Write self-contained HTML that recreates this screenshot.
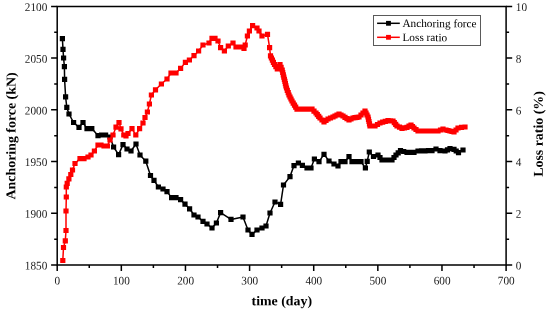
<!DOCTYPE html>
<html><head><meta charset="utf-8"><title>Anchoring force and loss ratio</title>
<style>
html,body{margin:0;padding:0;background:#fff}
svg{display:block}
text{font-family:"Liberation Serif",serif;fill:#000}
.t{font-size:11.7px;fill:#222}
.b{font-size:13.5px;font-weight:bold}
.l{font-size:11.25px}
</style></head><body>
<svg width="550" height="312" viewBox="0 0 550 312">
<rect width="550" height="312" fill="#fff"/>
<path d="M57.2 6.4H506.1V265.0H57.2Z" fill="none" stroke="#000" stroke-width="1.5"/>
<path d="M57.20 265.0v6.1M89.26 265.0v3.0M121.33 265.0v6.1M153.39 265.0v3.0M185.46 265.0v6.1M217.52 265.0v3.0M249.59 265.0v6.1M281.65 265.0v3.0M313.71 265.0v6.1M345.78 265.0v3.0M377.84 265.0v6.1M409.91 265.0v3.0M441.97 265.0v6.1M474.04 265.0v3.0M506.10 265.0v6.1M57.2 6.40h-6.1M506.1 6.40h6.1M57.2 32.26h-3.0M506.1 32.26h3.0M57.2 58.12h-6.1M506.1 58.12h6.1M57.2 83.98h-3.0M506.1 83.98h3.0M57.2 109.84h-6.1M506.1 109.84h6.1M57.2 135.70h-3.0M506.1 135.70h3.0M57.2 161.56h-6.1M506.1 161.56h6.1M57.2 187.42h-3.0M506.1 187.42h3.0M57.2 213.28h-6.1M506.1 213.28h6.1M57.2 239.14h-3.0M506.1 239.14h3.0M57.2 265.00h-6.1M506.1 265.00h6.1" fill="none" stroke="#000" stroke-width="1.5"/>
<polyline fill="none" stroke="#000" stroke-width="1.5" stroke-linejoin="round" points="62.4,38.6 63.0,49.4 63.6,58.0 64.4,66.6 64.6,79.4 65.6,96.8 66.8,107.4 69.0,114.0 73.6,122.5 79.0,127.4 83.0,122.5 87.0,128.6 91.8,128.6 98.0,135.6 101.6,135.0 105.6,135.0 110.0,137.0 113.6,147.0 118.6,154.6 123.0,144.6 127.0,149.0 131.0,151.0 136.0,144.0 140.0,155.0 145.8,161.2 150.5,175.5 154.0,180.4 158.4,187.0 163.0,189.0 167.0,191.6 171.6,197.6 176.0,197.6 180.6,199.6 185.0,204.2 189.6,208.8 194.0,215.0 198.0,217.0 203.0,221.4 207.0,224.0 212.0,228.0 216.4,223.0 220.6,212.6 231.0,219.4 243.0,217.0 248.0,230.0 252.0,234.4 257.0,230.0 262.0,228.0 266.0,226.0 270.0,213.0 275.0,202.0 280.6,204.4 283.5,185.0 290.0,176.6 294.0,165.6 298.4,163.0 302.4,165.4 307.0,168.0 311.0,168.0 314.4,159.0 319.0,161.6 324.0,154.4 329.0,161.0 334.0,164.0 338.0,166.0 341.0,161.6 345.0,161.6 349.0,156.6 352.0,161.6 356.5,161.6 361.0,161.6 365.4,168.0 367.2,161.4 369.3,152.0 373.5,156.5 378.0,155.0 382.0,160.0 387.0,160.0 392.0,160.0 396.0,155.0 400.5,150.6 407.0,152.4 414.0,152.4 418.0,151.0 425.0,150.8 432.0,150.6 436.0,149.0 440.0,150.6 445.0,151.0 450.0,148.6 454.0,149.4 458.5,152.6 463.0,150.0"/>
<path fill="#000" d="M59.8 36.0h5.2v5.2h-5.2zM60.4 46.8h5.2v5.2h-5.2zM61.0 55.4h5.2v5.2h-5.2zM61.8 64.0h5.2v5.2h-5.2zM62.0 76.8h5.2v5.2h-5.2zM63.0 94.2h5.2v5.2h-5.2zM64.2 104.8h5.2v5.2h-5.2zM66.4 111.4h5.2v5.2h-5.2zM71.0 119.9h5.2v5.2h-5.2zM76.4 124.8h5.2v5.2h-5.2zM80.4 119.9h5.2v5.2h-5.2zM84.4 126.0h5.2v5.2h-5.2zM89.2 126.0h5.2v5.2h-5.2zM95.4 133.0h5.2v5.2h-5.2zM99.0 132.4h5.2v5.2h-5.2zM103.0 132.4h5.2v5.2h-5.2zM107.4 134.4h5.2v5.2h-5.2zM111.0 144.4h5.2v5.2h-5.2zM116.0 152.0h5.2v5.2h-5.2zM120.4 142.0h5.2v5.2h-5.2zM124.4 146.4h5.2v5.2h-5.2zM128.4 148.4h5.2v5.2h-5.2zM133.4 141.4h5.2v5.2h-5.2zM137.4 152.4h5.2v5.2h-5.2zM143.2 158.6h5.2v5.2h-5.2zM147.9 172.9h5.2v5.2h-5.2zM151.4 177.8h5.2v5.2h-5.2zM155.8 184.4h5.2v5.2h-5.2zM160.4 186.4h5.2v5.2h-5.2zM164.4 189.0h5.2v5.2h-5.2zM169.0 195.0h5.2v5.2h-5.2zM173.4 195.0h5.2v5.2h-5.2zM178.0 197.0h5.2v5.2h-5.2zM182.4 201.6h5.2v5.2h-5.2zM187.0 206.2h5.2v5.2h-5.2zM191.4 212.4h5.2v5.2h-5.2zM195.4 214.4h5.2v5.2h-5.2zM200.4 218.8h5.2v5.2h-5.2zM204.4 221.4h5.2v5.2h-5.2zM209.4 225.4h5.2v5.2h-5.2zM213.8 220.4h5.2v5.2h-5.2zM218.0 210.0h5.2v5.2h-5.2zM228.4 216.8h5.2v5.2h-5.2zM240.4 214.4h5.2v5.2h-5.2zM245.4 227.4h5.2v5.2h-5.2zM249.4 231.8h5.2v5.2h-5.2zM254.4 227.4h5.2v5.2h-5.2zM259.4 225.4h5.2v5.2h-5.2zM263.4 223.4h5.2v5.2h-5.2zM267.4 210.4h5.2v5.2h-5.2zM272.4 199.4h5.2v5.2h-5.2zM278.0 201.8h5.2v5.2h-5.2zM280.9 182.4h5.2v5.2h-5.2zM287.4 174.0h5.2v5.2h-5.2zM291.4 163.0h5.2v5.2h-5.2zM295.8 160.4h5.2v5.2h-5.2zM299.8 162.8h5.2v5.2h-5.2zM304.4 165.4h5.2v5.2h-5.2zM308.4 165.4h5.2v5.2h-5.2zM311.8 156.4h5.2v5.2h-5.2zM316.4 159.0h5.2v5.2h-5.2zM321.4 151.8h5.2v5.2h-5.2zM326.4 158.4h5.2v5.2h-5.2zM331.4 161.4h5.2v5.2h-5.2zM335.4 163.4h5.2v5.2h-5.2zM338.4 159.0h5.2v5.2h-5.2zM342.4 159.0h5.2v5.2h-5.2zM346.4 154.0h5.2v5.2h-5.2zM349.4 159.0h5.2v5.2h-5.2zM353.9 159.0h5.2v5.2h-5.2zM358.4 159.0h5.2v5.2h-5.2zM362.8 165.4h5.2v5.2h-5.2zM364.6 158.8h5.2v5.2h-5.2zM366.7 149.4h5.2v5.2h-5.2zM370.9 153.9h5.2v5.2h-5.2zM375.4 152.4h5.2v5.2h-5.2zM377.4 154.9h5.2v5.2h-5.2zM379.4 157.4h5.2v5.2h-5.2zM384.4 157.4h5.2v5.2h-5.2zM389.4 157.4h5.2v5.2h-5.2zM391.4 154.9h5.2v5.2h-5.2zM393.4 152.4h5.2v5.2h-5.2zM395.6 150.2h5.2v5.2h-5.2zM397.9 148.0h5.2v5.2h-5.2zM401.1 148.9h5.2v5.2h-5.2zM404.4 149.8h5.2v5.2h-5.2zM407.9 149.8h5.2v5.2h-5.2zM411.4 149.8h5.2v5.2h-5.2zM415.4 148.4h5.2v5.2h-5.2zM418.9 148.3h5.2v5.2h-5.2zM422.4 148.2h5.2v5.2h-5.2zM425.9 148.1h5.2v5.2h-5.2zM429.4 148.0h5.2v5.2h-5.2zM433.4 146.4h5.2v5.2h-5.2zM437.4 148.0h5.2v5.2h-5.2zM442.4 148.4h5.2v5.2h-5.2zM444.9 147.2h5.2v5.2h-5.2zM447.4 146.0h5.2v5.2h-5.2zM451.4 146.8h5.2v5.2h-5.2zM453.6 148.4h5.2v5.2h-5.2zM455.9 150.0h5.2v5.2h-5.2zM460.4 147.4h5.2v5.2h-5.2z"/>
<polyline fill="none" stroke="#f00" stroke-width="1.5" stroke-linejoin="round" points="62.8,260.5 63.5,247.5 65.3,240.9 66.0,230.5 66.0,211.0 66.3,197.0 66.3,187.0 67.2,183.3 68.9,178.9 70.8,174.5 72.5,170.0 75.0,163.5 80.0,158.6 84.0,158.6 88.0,157.0 91.0,155.0 94.4,151.0 98.0,145.0 101.0,145.0 104.0,146.0 107.4,146.0 110.0,140.0 113.0,135.0 116.0,127.2 119.0,122.5 121.0,128.8 123.8,135.0 126.0,136.0 128.0,133.5 132.0,128.6 135.8,135.0 139.6,128.6 143.0,123.0 145.0,117.5 147.4,112.0 149.4,104.0 151.4,95.0 155.5,89.8 161.4,84.0 167.0,79.0 171.0,73.0 176.0,73.0 180.6,68.4 185.4,62.4 189.4,60.0 194.0,55.6 198.6,51.0 203.0,45.0 209.0,43.0 212.0,38.4 215.0,38.4 218.0,41.0 220.6,47.6 224.4,51.0 228.3,46.0 233.0,43.0 236.0,47.0 240.0,47.0 244.0,48.5 245.2,45.0 247.4,36.0 249.4,31.0 252.6,25.6 257.0,28.0 259.0,31.0 262.0,36.0 267.5,34.3 269.6,47.6 270.5,55.8 272.4,60.2 274.5,64.5 277.3,68.9 280.0,64.5 282.2,70.0 283.3,74.9 284.4,79.3 285.4,83.6 286.5,88.0 289.0,95.0 292.0,101.0 297.0,109.2 302.0,109.2 307.0,109.2 312.0,109.2 316.0,113.0 320.0,118.0 324.0,122.0 328.0,119.0 333.0,117.0 339.0,114.0 343.0,116.0 349.0,120.0 353.0,118.0 359.0,117.0 365.0,111.0 368.0,117.0 370.0,126.0 375.0,126.0 380.0,123.0 388.0,120.6 393.0,121.0 397.0,126.0 402.0,128.4 407.0,127.4 411.0,125.0 414.0,128.0 418.0,131.0 423.0,131.0 428.0,131.0 433.0,131.0 438.0,131.0 443.0,129.0 446.0,130.0 450.0,131.0 454.0,132.0 458.0,128.0 461.5,127.3 465.0,127.0"/>
<path fill="#f00" d="M60.2 257.9h5.2v5.2h-5.2zM60.9 244.9h5.2v5.2h-5.2zM62.7 238.3h5.2v5.2h-5.2zM63.4 227.9h5.2v5.2h-5.2zM63.4 208.4h5.2v5.2h-5.2zM63.7 194.4h5.2v5.2h-5.2zM63.7 184.4h5.2v5.2h-5.2zM64.6 180.7h5.2v5.2h-5.2zM66.3 176.3h5.2v5.2h-5.2zM68.2 171.9h5.2v5.2h-5.2zM69.9 167.4h5.2v5.2h-5.2zM72.4 160.9h5.2v5.2h-5.2zM77.4 156.0h5.2v5.2h-5.2zM81.4 156.0h5.2v5.2h-5.2zM85.4 154.4h5.2v5.2h-5.2zM88.4 152.4h5.2v5.2h-5.2zM91.8 148.4h5.2v5.2h-5.2zM95.4 142.4h5.2v5.2h-5.2zM98.4 142.4h5.2v5.2h-5.2zM101.4 143.4h5.2v5.2h-5.2zM104.8 143.4h5.2v5.2h-5.2zM107.4 137.4h5.2v5.2h-5.2zM110.4 132.4h5.2v5.2h-5.2zM113.4 124.6h5.2v5.2h-5.2zM116.4 119.9h5.2v5.2h-5.2zM118.4 126.2h5.2v5.2h-5.2zM121.2 132.4h5.2v5.2h-5.2zM123.4 133.4h5.2v5.2h-5.2zM125.4 130.9h5.2v5.2h-5.2zM129.4 126.0h5.2v5.2h-5.2zM133.2 132.4h5.2v5.2h-5.2zM137.0 126.0h5.2v5.2h-5.2zM140.4 120.4h5.2v5.2h-5.2zM142.4 114.9h5.2v5.2h-5.2zM144.8 109.4h5.2v5.2h-5.2zM146.8 101.4h5.2v5.2h-5.2zM148.8 92.4h5.2v5.2h-5.2zM152.9 87.2h5.2v5.2h-5.2zM158.8 81.4h5.2v5.2h-5.2zM164.4 76.4h5.2v5.2h-5.2zM168.4 70.4h5.2v5.2h-5.2zM173.4 70.4h5.2v5.2h-5.2zM178.0 65.8h5.2v5.2h-5.2zM182.8 59.8h5.2v5.2h-5.2zM186.8 57.4h5.2v5.2h-5.2zM191.4 53.0h5.2v5.2h-5.2zM196.0 48.4h5.2v5.2h-5.2zM200.4 42.4h5.2v5.2h-5.2zM206.4 40.4h5.2v5.2h-5.2zM209.4 35.8h5.2v5.2h-5.2zM212.4 35.8h5.2v5.2h-5.2zM215.4 38.4h5.2v5.2h-5.2zM218.0 45.0h5.2v5.2h-5.2zM221.8 48.4h5.2v5.2h-5.2zM225.7 43.4h5.2v5.2h-5.2zM230.4 40.4h5.2v5.2h-5.2zM233.4 44.4h5.2v5.2h-5.2zM237.4 44.4h5.2v5.2h-5.2zM241.4 45.9h5.2v5.2h-5.2zM242.6 42.4h5.2v5.2h-5.2zM244.8 33.4h5.2v5.2h-5.2zM246.8 28.4h5.2v5.2h-5.2zM250.0 23.0h5.2v5.2h-5.2zM254.4 25.4h5.2v5.2h-5.2zM256.4 28.4h5.2v5.2h-5.2zM259.4 33.4h5.2v5.2h-5.2zM264.9 31.7h5.2v5.2h-5.2zM267.0 45.0h5.2v5.2h-5.2zM267.9 53.2h5.2v5.2h-5.2zM268.8 55.4h5.2v5.2h-5.2zM269.8 57.6h5.2v5.2h-5.2zM270.8 59.8h5.2v5.2h-5.2zM271.9 61.9h5.2v5.2h-5.2zM273.3 64.1h5.2v5.2h-5.2zM274.7 66.3h5.2v5.2h-5.2zM276.0 64.1h5.2v5.2h-5.2zM277.4 61.9h5.2v5.2h-5.2zM278.5 64.7h5.2v5.2h-5.2zM279.6 67.4h5.2v5.2h-5.2zM280.1 69.9h5.2v5.2h-5.2zM280.7 72.3h5.2v5.2h-5.2zM281.2 74.5h5.2v5.2h-5.2zM281.8 76.7h5.2v5.2h-5.2zM282.3 78.8h5.2v5.2h-5.2zM282.8 81.0h5.2v5.2h-5.2zM283.3 83.2h5.2v5.2h-5.2zM283.9 85.4h5.2v5.2h-5.2zM284.7 87.7h5.2v5.2h-5.2zM285.6 90.1h5.2v5.2h-5.2zM286.4 92.4h5.2v5.2h-5.2zM287.4 94.4h5.2v5.2h-5.2zM288.4 96.4h5.2v5.2h-5.2zM289.4 98.4h5.2v5.2h-5.2zM290.6 100.5h5.2v5.2h-5.2zM291.9 102.5h5.2v5.2h-5.2zM293.1 104.6h5.2v5.2h-5.2zM294.4 106.6h5.2v5.2h-5.2zM296.9 106.6h5.2v5.2h-5.2zM299.4 106.6h5.2v5.2h-5.2zM301.9 106.6h5.2v5.2h-5.2zM304.4 106.6h5.2v5.2h-5.2zM306.9 106.6h5.2v5.2h-5.2zM309.4 106.6h5.2v5.2h-5.2zM311.4 108.5h5.2v5.2h-5.2zM313.4 110.4h5.2v5.2h-5.2zM314.7 112.1h5.2v5.2h-5.2zM316.1 113.7h5.2v5.2h-5.2zM317.4 115.4h5.2v5.2h-5.2zM319.4 117.4h5.2v5.2h-5.2zM321.4 119.4h5.2v5.2h-5.2zM323.4 117.9h5.2v5.2h-5.2zM325.4 116.4h5.2v5.2h-5.2zM327.9 115.4h5.2v5.2h-5.2zM330.4 114.4h5.2v5.2h-5.2zM332.4 113.4h5.2v5.2h-5.2zM334.4 112.4h5.2v5.2h-5.2zM336.4 111.4h5.2v5.2h-5.2zM338.4 112.4h5.2v5.2h-5.2zM340.4 113.4h5.2v5.2h-5.2zM342.4 114.7h5.2v5.2h-5.2zM344.4 116.1h5.2v5.2h-5.2zM346.4 117.4h5.2v5.2h-5.2zM348.4 116.4h5.2v5.2h-5.2zM350.4 115.4h5.2v5.2h-5.2zM352.4 115.1h5.2v5.2h-5.2zM354.4 114.7h5.2v5.2h-5.2zM356.4 114.4h5.2v5.2h-5.2zM358.4 112.4h5.2v5.2h-5.2zM360.4 110.4h5.2v5.2h-5.2zM362.4 108.4h5.2v5.2h-5.2zM363.4 110.4h5.2v5.2h-5.2zM364.4 112.4h5.2v5.2h-5.2zM365.4 114.4h5.2v5.2h-5.2zM365.9 116.7h5.2v5.2h-5.2zM366.4 118.9h5.2v5.2h-5.2zM366.9 121.2h5.2v5.2h-5.2zM367.4 123.4h5.2v5.2h-5.2zM369.9 123.4h5.2v5.2h-5.2zM372.4 123.4h5.2v5.2h-5.2zM374.9 121.9h5.2v5.2h-5.2zM377.4 120.4h5.2v5.2h-5.2zM380.1 119.6h5.2v5.2h-5.2zM382.7 118.8h5.2v5.2h-5.2zM385.4 118.0h5.2v5.2h-5.2zM387.9 118.2h5.2v5.2h-5.2zM390.4 118.4h5.2v5.2h-5.2zM391.7 120.1h5.2v5.2h-5.2zM393.1 121.7h5.2v5.2h-5.2zM394.4 123.4h5.2v5.2h-5.2zM396.9 124.6h5.2v5.2h-5.2zM399.4 125.8h5.2v5.2h-5.2zM401.9 125.3h5.2v5.2h-5.2zM404.4 124.8h5.2v5.2h-5.2zM406.4 123.6h5.2v5.2h-5.2zM408.4 122.4h5.2v5.2h-5.2zM409.9 123.9h5.2v5.2h-5.2zM411.4 125.4h5.2v5.2h-5.2zM413.4 126.9h5.2v5.2h-5.2zM415.4 128.4h5.2v5.2h-5.2zM417.9 128.4h5.2v5.2h-5.2zM420.4 128.4h5.2v5.2h-5.2zM422.9 128.4h5.2v5.2h-5.2zM425.4 128.4h5.2v5.2h-5.2zM427.9 128.4h5.2v5.2h-5.2zM430.4 128.4h5.2v5.2h-5.2zM432.9 128.4h5.2v5.2h-5.2zM435.4 128.4h5.2v5.2h-5.2zM437.9 127.4h5.2v5.2h-5.2zM440.4 126.4h5.2v5.2h-5.2zM443.4 127.4h5.2v5.2h-5.2zM445.4 127.9h5.2v5.2h-5.2zM447.4 128.4h5.2v5.2h-5.2zM449.4 128.9h5.2v5.2h-5.2zM451.4 129.4h5.2v5.2h-5.2zM453.4 127.4h5.2v5.2h-5.2zM455.4 125.4h5.2v5.2h-5.2zM458.9 124.7h5.2v5.2h-5.2zM462.4 124.4h5.2v5.2h-5.2z"/>
<rect x="373.5" y="15.5" width="107" height="30" fill="#fff" stroke="#5a5a5a" stroke-width="1"/><path d="M377.1 23.3h22.7" stroke="#000" stroke-width="1.5"/><rect x="386.05" y="20.9" width="4.85" height="4.8" fill="#000"/><path d="M377.1 37.3h22.7" stroke="#f00" stroke-width="1.5"/><rect x="386.05" y="34.9" width="4.85" height="4.8" fill="#f00"/><text transform="translate(402.5,27.1) rotate(0.05)" class="l">Anchoring force</text><text transform="translate(402.5,41.1) rotate(0.05)" class="l">Loss ratio</text>
<text transform="translate(47.3,10.9) rotate(0.05) scale(0.96,1)" text-anchor="end" class="t">2100</text><text transform="translate(47.3,62.7) rotate(0.05) scale(0.96,1)" text-anchor="end" class="t">2050</text><text transform="translate(47.3,114.4) rotate(0.05) scale(0.96,1)" text-anchor="end" class="t">2000</text><text transform="translate(47.3,166.1) rotate(0.05) scale(0.96,1)" text-anchor="end" class="t">1950</text><text transform="translate(47.3,217.8) rotate(0.05) scale(0.96,1)" text-anchor="end" class="t">1900</text><text transform="translate(47.3,269.6) rotate(0.05) scale(0.96,1)" text-anchor="end" class="t">1850</text><text transform="translate(515.8,10.9) rotate(0.05) scale(0.96,1)" class="t">10</text><text transform="translate(515.8,62.7) rotate(0.05) scale(0.96,1)" class="t">8</text><text transform="translate(515.8,114.4) rotate(0.05) scale(0.96,1)" class="t">6</text><text transform="translate(515.8,166.1) rotate(0.05) scale(0.96,1)" class="t">4</text><text transform="translate(515.8,217.8) rotate(0.05) scale(0.96,1)" class="t">2</text><text transform="translate(515.8,269.6) rotate(0.05) scale(0.96,1)" class="t">0</text><text transform="translate(57.3,284.4) rotate(0.05) scale(0.96,1)" text-anchor="middle" class="t">0</text><text transform="translate(121.4,284.4) rotate(0.05) scale(0.96,1)" text-anchor="middle" class="t">100</text><text transform="translate(185.6,284.4) rotate(0.05) scale(0.96,1)" text-anchor="middle" class="t">200</text><text transform="translate(249.7,284.4) rotate(0.05) scale(0.96,1)" text-anchor="middle" class="t">300</text><text transform="translate(313.8,284.4) rotate(0.05) scale(0.96,1)" text-anchor="middle" class="t">400</text><text transform="translate(377.9,284.4) rotate(0.05) scale(0.96,1)" text-anchor="middle" class="t">500</text><text transform="translate(442.1,284.4) rotate(0.05) scale(0.96,1)" text-anchor="middle" class="t">600</text><text transform="translate(506.2,284.4) rotate(0.05) scale(0.96,1)" text-anchor="middle" class="t">700</text><text transform="translate(281.8,305.2) rotate(0.05) scale(1.03,1)" text-anchor="middle" class="b">time (day)</text><text transform="translate(15.4,135.9) rotate(-89.95) scale(1.03,1)" text-anchor="middle" class="b">Anchoring force (kN)</text><text transform="translate(542.7,134.0) rotate(-89.95) scale(1.03,1)" text-anchor="middle" class="b">Loss ratio (%)</text>
</svg>
</body></html>
